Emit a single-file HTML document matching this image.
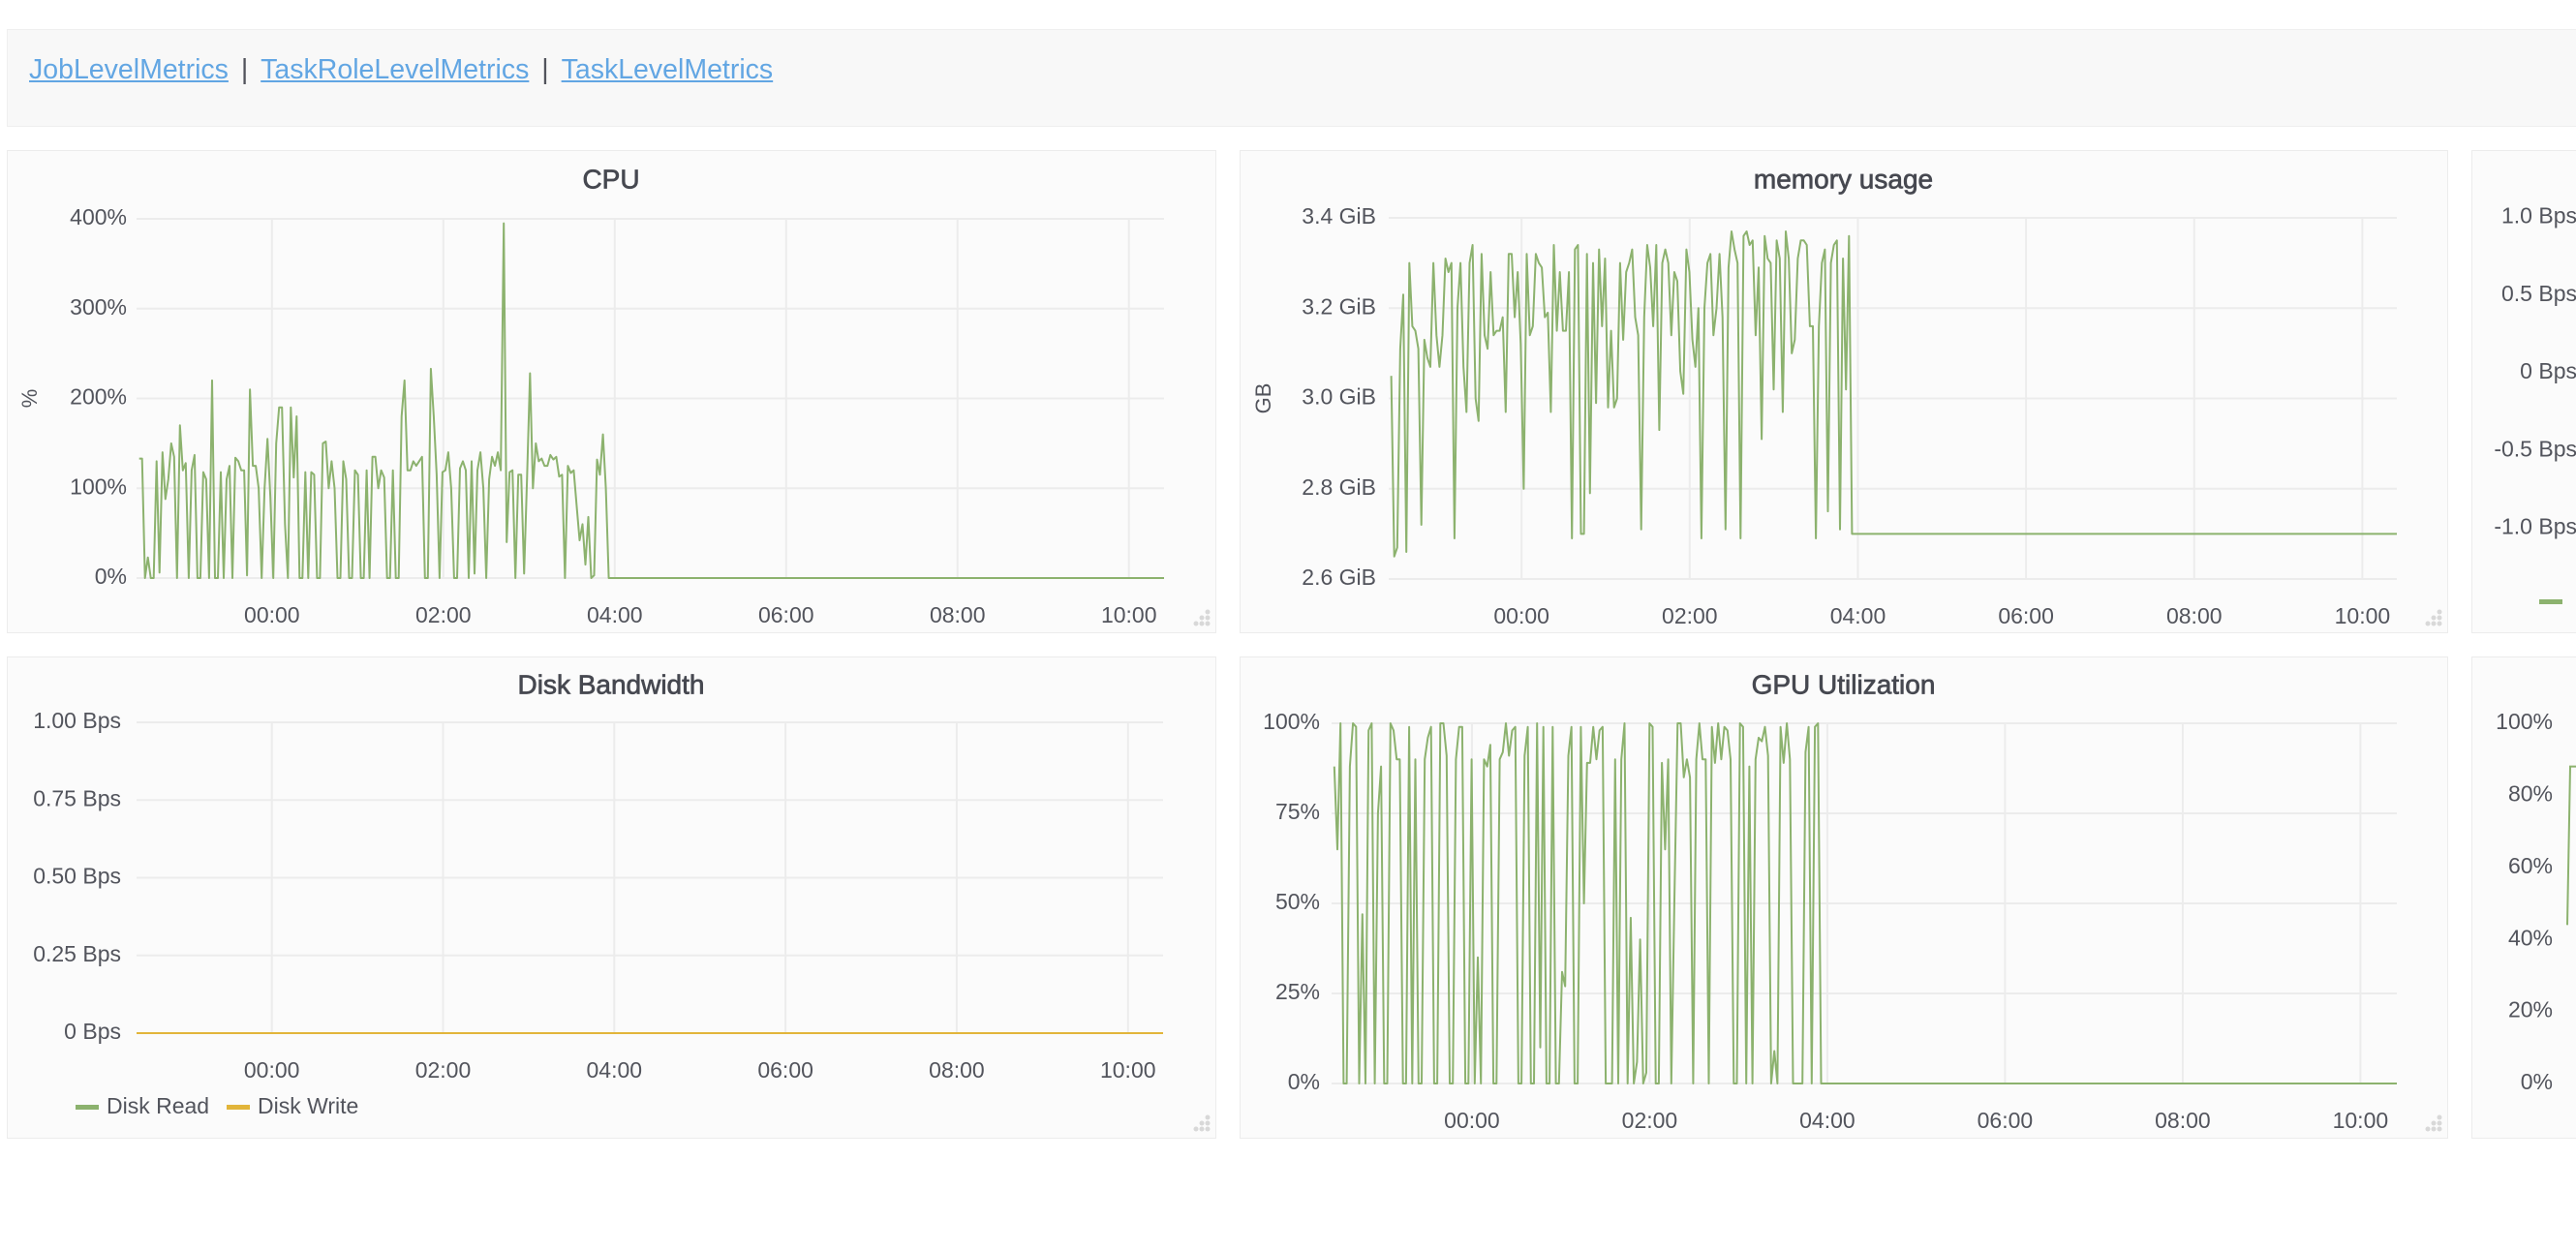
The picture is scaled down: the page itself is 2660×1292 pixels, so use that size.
<!DOCTYPE html>
<html><head><meta charset="utf-8">
<style>
html,body{margin:0;padding:0;background:#fff;width:2660px;height:1292px;overflow:hidden;font-family:"Liberation Sans",sans-serif;}
.panel{position:absolute;background:#fbfbfb;border:1px solid #ececec;box-sizing:border-box;}
#links{position:absolute;left:7px;top:30px;width:2660px;height:101px;background:#f8f8f8;border:1px solid #efefef;box-sizing:border-box;font-size:28.5px;color:#52545c;padding:25px 0 0 22px;}
#links a{color:#62a6e3;text-decoration:underline;}
#links .sep{margin:0 5px;}
svg{position:absolute;left:0;top:0;}
</style></head><body>
<div id="links"><a>JobLevelMetrics</a><span class="sep"> | </span><a>TaskRoleLevelMetrics</a><span class="sep"> | </span><a>TaskLevelMetrics</a></div>
<div class="panel" style="left:7px;top:155px;width:1249px;height:499px"></div>
<div class="panel" style="left:1280px;top:155px;width:1248px;height:499px"></div>
<div class="panel" style="left:2552px;top:155px;width:200px;height:499px"></div>
<div class="panel" style="left:7px;top:678px;width:1249px;height:498px"></div>
<div class="panel" style="left:1280px;top:678px;width:1248px;height:498px"></div>
<div class="panel" style="left:2552px;top:678px;width:200px;height:498px"></div>
<svg id="chart" width="2660" height="1292"></svg>
<script>
const timeTicks = [0, 2, 4, 6, 8, 10];
const timeTickLabels = ["00:00", "02:00", "04:00", "06:00", "08:00", "10:00"];
const tStart = -1.58, tEnd = 10.41, activeEnd = 3.93;
const cpuValues = [133,133,0,23,0,0,130,6,140,88,110,150,135,0,170,120,128,0,120,137,0,0,118,110,0,220,0,0,118,0,110,125,0,134,130,120,120,3,210,125,125,100,0,100,155,90,0,150,190,190,60,0,190,112,180,0,0,118,0,118,115,0,0,150,152,100,130,100,0,0,130,110,0,0,120,115,0,0,120,0,135,135,100,120,112,0,0,120,0,0,180,220,120,120,130,125,130,135,0,0,233,180,115,0,118,120,140,100,0,0,122,130,120,0,130,5,120,140,100,0,110,135,125,140,120,395,40,118,120,0,115,115,5,110,228,100,150,130,133,125,125,137,132,135,113,115,0,125,117,120,80,42,60,15,68,0,3,132,115,160,100,0];
const memValues = [3.05,2.65,2.67,3.11,3.23,2.66,3.30,3.16,3.15,3.11,2.72,3.13,3.09,3.07,3.30,3.14,3.07,3.14,3.31,3.28,3.30,2.69,3.20,3.30,3.07,2.97,3.30,3.34,3.00,2.95,3.32,3.14,3.11,3.28,3.14,3.15,3.15,3.18,2.97,3.32,3.32,3.18,3.28,3.12,2.80,3.32,3.14,3.16,3.32,3.30,3.29,3.18,3.19,2.97,3.34,3.15,3.28,3.15,3.15,3.28,2.69,3.33,3.34,2.70,2.70,3.32,2.79,3.30,2.99,3.33,3.16,3.31,2.98,3.15,2.98,3.00,3.30,3.13,3.28,3.30,3.33,3.18,3.14,2.71,3.18,3.34,3.29,3.16,3.34,2.93,3.30,3.33,3.30,3.14,3.28,3.26,3.06,3.01,3.33,3.28,3.13,3.07,3.20,2.69,3.20,3.30,3.32,3.14,3.20,3.32,3.18,2.71,3.29,3.37,3.33,3.30,2.69,3.36,3.37,3.34,3.35,3.14,3.29,2.91,3.36,3.31,3.30,3.02,3.35,3.31,2.97,3.37,3.31,3.10,3.13,3.31,3.35,3.35,3.34,3.16,3.16,2.69,3.16,3.30,3.33,2.75,3.30,3.34,3.35,2.71,3.31,3.02,3.36,2.70];
const gpuValues = [88,65,100,0,0,88,100,99,0,47,0,98,100,0,75,88,0,0,100,98,90,90,0,0,99,0,90,0,0,90,96,99,0,0,100,100,91,0,0,90,99,99,0,0,90,0,35,0,90,88,94,0,0,90,92,100,91,98,99,0,0,91,99,0,0,100,10,99,0,0,99,0,0,31,27,91,99,0,0,99,50,89,89,99,90,98,99,0,0,0,90,0,90,100,0,46,0,6,40,0,3,100,99,0,0,89,65,90,0,51,100,100,85,90,85,0,90,100,90,90,0,99,89,100,90,99,98,90,0,0,100,99,0,88,0,90,96,95,99,91,0,9,0,99,89,100,90,0,0,0,0,92,99,0,99,100,0];
const diskReadValues = [0, 0];
const diskWriteValues = [0, 0];
const cpuTicks = [0,100,200,300,400];
const memTicks = [2.6,2.8,3.0,3.2,3.4];
const gpuTicks = [0,25,50,75,100];
const diskTicks = [0,0.25,0.5,0.75,1.0];
const netTicks = [-1.0,-0.5,0,0.5,1.0];
const netTickLabels = ["-1.0 Bps","-0.5 Bps","0 Bps","0.5 Bps","1.0 Bps"];
const gpuMemTicks = [0,20,40,60,80,100];
const gpuMemValues = [44, 88, 88];

const NS = "http://www.w3.org/2000/svg";
const svg = document.getElementById("chart");
function mk(tag, attrs, parent) {
  const e = document.createElementNS(NS, tag);
  for (const k in attrs) e.setAttribute(k, attrs[k]);
  (parent || svg).appendChild(e);
  return e;
}
function txt(s, x, y, anchor, size, weight, parent) {
  const t = mk("text", {x:x, y:y, "text-anchor":anchor, "font-size":size, "font-weight":weight||"normal", fill:"#52545c", "font-family":"Liberation Sans, sans-serif", "dominant-baseline":"middle"}, parent);
  t.textContent = s;
  return t;
}
function seriesTimes(n) {
  const out = [];
  for (let i = 0; i < n; i++) out.push(tStart + 0.03 + (activeEnd - tStart - 0.03) * i / (n - 1));
  return out;
}
function chart(cfg) {
  const g = mk("g", {});
  
  
  const xs = t => cfg.x0 + (t - tStart) / (tEnd - tStart) * (cfg.x1 - cfg.x0);
  const ys = v => cfg.y0 + (v - cfg.ymin) / (cfg.ymax - cfg.ymin) * (cfg.y1 - cfg.y0);
  const title = txt(cfg.title, (cfg.px0 + cfg.px1) / 2, cfg.titleY, "middle", 28, "normal", g);
  title.setAttribute("fill", "#464850");
  title.setAttribute("stroke", "#464850");
  title.setAttribute("stroke-width", "0.7");
  
  
  cfg.yTicks.forEach((v, i) => {
    const y = ys(v);
    const gl = mk("line", {x1:cfg.x0, x2:cfg.x1, y1:y, y2:y, stroke:"#ececec", "stroke-width":2}, g);
    
    
    const lb = txt(cfg.yLabel(v, i), cfg.labelRight, y, "end", 23, "normal", g);
    
    
  });
  timeTicks.forEach((t, i) => {
    const x = xs(t);
    const gl = mk("line", {x1:x, x2:x, y1:cfg.y1, y2:cfg.y0, stroke:"#ececec", "stroke-width":2}, g);
    
    
    const lb = txt(timeTickLabels[i], x, cfg.y0 + 40, "middle", 23, "normal", g);
    
    
  });
  if (cfg.axisTitle) {
    const at = txt(cfg.axisTitle, 0, 0, "middle", 22, "normal", g);
    at.setAttribute("transform", "translate(" + cfg.axisTitleX + "," + ((cfg.y0 + cfg.y1) / 2) + ") rotate(-90)");
    
    
  }
  cfg.series.forEach(s => {
    const times = s.times || seriesTimes(s.values.length);
    let pts = s.values.map((v, i) => xs(times[i]).toFixed(1) + "," + ys(v).toFixed(1));
    pts.push(xs(tEnd).toFixed(1) + "," + ys(s.values[s.values.length - 1]).toFixed(1));
    const pl = mk("polyline", {points:pts.join(" "), fill:"none", stroke:s.color, "stroke-width":2, "stroke-linejoin":"round"}, g);
    
    
  });
  for (let r = 0; r < 3; r++) for (let c = 0; c <= r; c++) {
    const d = mk("circle", {cx:cfg.px1 - 8 - c * 6, cy:cfg.py1 - 8 - (2 - r) * 6, r:2.5, fill:"#d8d8d8"}, g);
    
    
  }
}
chart({name:"cpu-chart", title:"CPU", px0:7, px1:1255, py1:652, titleY:187, x0:141, x1:1202, y0:597, y1:226, ymin:0, ymax:400, yTicks:cpuTicks, yLabel:v=>v+"%", labelRight:131, axisTitle:"%", axisTitleX:32,
  series:[{name:"cpu-line", values:cpuValues, color:"#8cb26e"}]});
chart({name:"memory-chart", title:"memory usage", px0:1280, px1:2527, py1:652, titleY:187, x0:1434, x1:2475, y0:598, y1:225, ymin:2.6, ymax:3.4, yTicks:memTicks, yLabel:v=>v.toFixed(1)+" GiB", labelRight:1421, axisTitle:"GB", axisTitleX:1306,
  series:[{name:"memory-line", values:memValues, color:"#8cb26e"}]});
chart({name:"disk-chart", title:"Disk Bandwidth", px0:7, px1:1255, py1:1174, titleY:709, x0:141, x1:1201, y0:1067, y1:746, ymin:0, ymax:1, yTicks:diskTicks, yLabel:v=>(v===0?"0":v.toFixed(2))+" Bps", labelRight:125,
  series:[{name:"disk-read-line", values:diskReadValues, times:[tStart, activeEnd], color:"#8cb26e"},{name:"disk-write-line", values:diskWriteValues, times:[tStart, activeEnd], color:"#e2b53a"}]});
chart({name:"gpu-chart", title:"GPU Utilization", px0:1280, px1:2527, py1:1174, titleY:709, x0:1375, x1:2475, y0:1119, y1:747, ymin:0, ymax:100, yTicks:gpuTicks, yLabel:v=>v+"%", labelRight:1363,
  series:[{name:"gpu-line", values:gpuValues, color:"#8cb26e"}]});

netTicks.forEach((v, i) => {
  const y = 385 - v * 160.5;
  const lb = txt(netTickLabels[i], 2661, y, "end", 23, "normal");
  
  
});
const nm = mk("rect", {x:2622, y:619, width:24, height:5, fill:"#8cb26e"});


gpuMemTicks.forEach(v => {
  const y = 1119 - v * 3.72;
  const lb = txt(v + "%", 2636, y, "end", 23, "normal");
  
  
});
const gmx = [2651, 2654, 2660];
const gm = mk("polyline", {points:gpuMemValues.map((v, i) => gmx[i] + "," + (1119 - v * 3.72)).join(" "), fill:"none", stroke:"#8cb26e", "stroke-width":2});



[["Disk Read", "#8cb26e", 78], ["Disk Write", "#e2b53a", 234]].forEach(l => {
  const r = mk("rect", {x:l[2], y:1141, width:24, height:5, fill:l[1]});
  
  
  const t = txt(l[0], l[2] + 32, 1144, "start", 23, "normal");
  
  
});
</script>
</body></html>
